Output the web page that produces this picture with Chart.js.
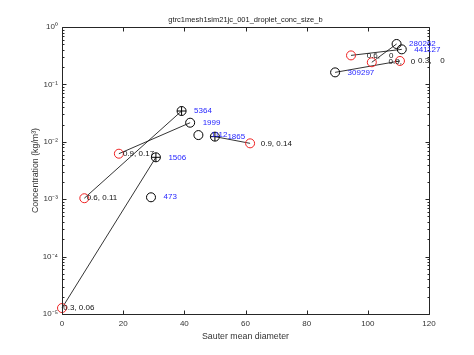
<!DOCTYPE html>
<html><head><meta charset="utf-8">
<script src="https://cdn.jsdelivr.net/npm/chart.js@4.4.1/dist/chart.umd.min.js"></script>
<style>html,body{margin:0;padding:0;background:#fff;}canvas{display:block;}</style>
</head><body>
<canvas id="c" width="474" height="355"></canvas>
<script>
const chartTitle = 'gtrc1mesh1sim21jc_001_droplet_conc_size_b';
const xAxisTitle = 'Sauter mean diameter';
const yAxisTitle = 'Concentration (kg/m³)';
const xTickValues = [0, 20, 40, 60, 80, 100, 120];
const yTickValues = [1e-5, 1e-4, 1e-3, 1e-2, 1e-1, 1];
const yTickLabels = ['10⁻⁵', '10⁻⁴', '10⁻³', '10⁻²', '10⁻¹', '10⁰'];

// black open circles with blue count labels
const countX = [39.1, 41.9, 44.6, 50.0, 30.7, 29.1, 109.4, 111.1, 89.3];
const countY = [0.0344, 0.0215, 0.0131, 0.0123, 0.00537, 0.00108, 0.506, 0.408, 0.162];
const countLabels = ['5364', '1999', '1112', '1865', '1506', '473', '280262', '441127', '309297'];
const countCrossed = [true, false, false, true, true, false, false, false, false];

// red open circles with black labels
const redX = [0, 7.3, 18.6, 61.5, 94.5, 101.3, 110.5];
const redY = [1.27e-5, 1.04e-3, 6.2e-3, 9.4e-3, 0.32, 0.243, 0.256];
const redLabels = ['0.3, 0.06', '0.6, 0.11', '0.9, 0.17', '0.9, 0.14', '0.6,    0', '0.9,    0', '0.3,    0'];

// connecting segments: red index -> black index
const linkRed = [0, 1, 2, 3, 4, 5, 6];
const linkCount = [4, 0, 1, 3, 7, 6, 8];

const FONT = '"Liberation Sans", Arial, Helvetica, sans-serif';
const AXC = '#262626';

const segs = linkRed.map((r, i) => ({
  type: 'line', showLine: true, pointRadius: 0, borderColor: '#000', borderWidth: 0.8,
  data: [{x: redX[r], y: redY[r]}, {x: countX[linkCount[i]], y: countY[linkCount[i]]}],
  clip: false, order: 3
}));

const blackPts = countX.map((v, i) => ({x: v, y: countY[i]}));
const crossPts = countX.map((v, i) => ({x: v, y: countY[i]})).filter((p, i) => countCrossed[i]);
const redPts = redX.map((v, i) => ({x: v, y: redY[i]}));

const decor = {
  id: 'decor',
  afterDraw(chart) {
    const {ctx, chartArea: a, scales: {x, y}} = chart;
    ctx.save();
    // box
    ctx.strokeStyle = AXC; ctx.lineWidth = 1;
    const L = Math.round(a.left) + 0.5, R = Math.round(a.right) + 0.5;
    const T = Math.round(a.top) + 0.5, B = Math.round(a.bottom) + 0.5;
    ctx.beginPath(); ctx.rect(L, T, R - L, B - T); ctx.stroke();
    ctx.beginPath();
    xTickValues.forEach(v => {
      const p = Math.round(x.getPixelForValue(v)) + 0.5;
      ctx.moveTo(p, B); ctx.lineTo(p, B - 4);
      ctx.moveTo(p, T); ctx.lineTo(p, T + 4);
    });
    for (let e = -5; e <= 0; e++) {
      for (let m = 1; m <= 9; m++) {
        const v = m * Math.pow(10, e);
        if (v > 1) break;
        const p = Math.round(y.getPixelForValue(v)) + 0.5;
        const len = m === 1 ? 4 : 2;
        ctx.moveTo(L, p); ctx.lineTo(L + len, p);
        ctx.moveTo(R, p); ctx.lineTo(R - len, p);
      }
    }
    ctx.stroke();
    // title
    ctx.fillStyle = '#1a1a1a';
    ctx.font = '7.5px ' + FONT;
    ctx.textAlign = 'center'; ctx.textBaseline = 'middle';
    ctx.fillText(chartTitle, (a.left + a.right) / 2, 20);
    // point labels
    ctx.font = '8px ' + FONT;
    ctx.textAlign = 'left';
    ctx.fillStyle = '#1f1fff';
    countLabels.forEach((t, i) => ctx.fillText(t, x.getPixelForValue(countX[i]) + 12.5, y.getPixelForValue(countY[i])));
    ctx.fillStyle = '#111';
    redLabels.forEach((t, i) => ctx.fillText(t, x.getPixelForValue(redX[i] * 1.05 + 0.4), y.getPixelForValue(redY[i])));
    ctx.restore();
  }
};

new Chart(document.getElementById('c'), {
  type: 'scatter',
  data: {
    datasets: [
      ...segs,
      {data: blackPts, pointStyle: 'circle', pointRadius: 4.5, borderColor: '#000', backgroundColor: 'rgba(0,0,0,0)', borderWidth: 1, clip: false, order: 2},
      {data: crossPts, pointStyle: 'cross', pointRadius: 4.5, borderColor: '#000', borderWidth: 1, clip: false, order: 1},
      {data: redPts, pointStyle: 'circle', pointRadius: 4.5, borderColor: '#ee2222', backgroundColor: 'rgba(0,0,0,0)', borderWidth: 1, clip: false, order: 1}
    ]
  },
  options: {
    responsive: false, animation: false, devicePixelRatio: 1,
    layout: {padding: {left: 0, right: 45, top: 27, bottom: 0}},
    plugins: {legend: {display: false}, tooltip: {enabled: false}, title: {display: false}},
    scales: {
      x: {
        type: 'linear', position: 'bottom', min: 0, max: 120,
        afterBuildTicks: s => { s.ticks = xTickValues.map(v => ({value: v})); },
        afterFit: s => { s.height = 41; },
        grid: {display: false, drawTicks: false},
        border: {display: false},
        ticks: {font: {size: 8, family: FONT}, color: '#333', padding: 5, maxRotation: 0},
        title: {display: true, text: xAxisTitle, font: {size: 8.8, family: FONT}, color: '#333', padding: {top: 0, bottom: 12.7}}
      },
      y: {
        type: 'logarithmic', position: 'left', min: 1e-5, max: 1,
        afterBuildTicks: s => { s.ticks = yTickValues.map(v => ({value: v})); },
        afterFit: s => { s.width = 62; },
        grid: {display: false, drawTicks: false},
        border: {display: false},
        ticks: {font: {size: 8, family: FONT}, color: '#333', padding: 4,
          callback: (v) => { const i = yTickValues.findIndex(t => Math.abs(t - v) / t < 1e-6); return i >= 0 ? yTickLabels[i] : ''; }},
        title: {display: true, text: yAxisTitle, font: {size: 8.8, family: FONT}, color: '#333', padding: {top: 30.7, bottom: 0}}
      }
    }
  },
  plugins: [decor]
});
</script>
</body></html>
